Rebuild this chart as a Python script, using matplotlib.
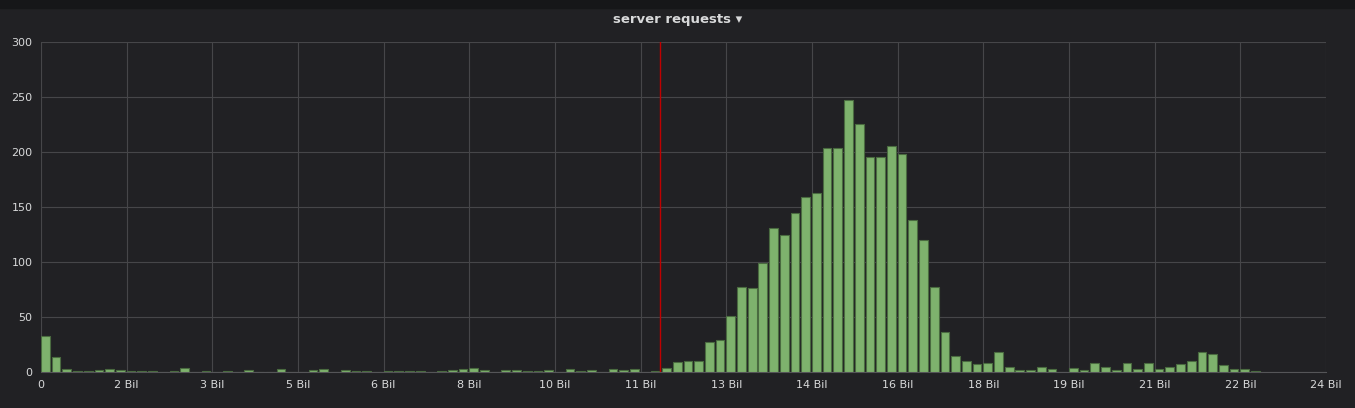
import matplotlib
matplotlib.use("Agg")
import matplotlib.pyplot as plt
import numpy as np

bucket_width = 0.2  # Bil
counts = [33,14,3,1,1,2,3,2,1,1,1,0,1,4,0,1,0,1,0,2,0,0,3,0,0,2,3,0,2,1,
          1,0,1,1,1,1,0,1,2,3,4,2,0,2,2,1,1,2,0,3,1,2,0,3,2,3,0,1,4,9,
          10,10,27,29,51,77,76,99,131,125,145,159,163,204,204,247,225,195,195,205,
          198,138,120,77,36,15,10,7,8,18,5,2,2,5,3,0,4,2,8,5,
          2,8,3,8,3,5,7,10,18,16,6,3,3,1]
tick_vals = [0,1.6,3.2,4.8,6.4,8.0,9.6,11.2,12.8,14.4,16.0,17.6,19.2,20.8,22.4,24.0]
tick_labels = ["0","2 Bil","3 Bil","5 Bil","6 Bil","8 Bil","10 Bil","11 Bil","13 Bil",
               "14 Bil","16 Bil","18 Bil","19 Bil","21 Bil","22 Bil","24 Bil"]
marker_x = 11.56
title = "server requests"

bg = "#212124"
fig = plt.figure(figsize=(13.55, 4.08), dpi=100, facecolor=bg)
fig.patches.append(plt.Rectangle((0, 1-8/408), 1, 8/408, transform=fig.transFigure,
                                 color="#161719", zorder=0))
ax = fig.add_axes([41/1355, 1-372/408, (1326-41)/1355, (372-42)/408], facecolor=bg)
x = np.arange(len(counts)) * bucket_width
ax.bar(x, counts, width=bucket_width*0.82, align="edge", color="#7EB26D",
       edgecolor="#4a6b40", linewidth=0.8, zorder=3)
ax.axvline(marker_x, color="#c00000", linewidth=1, zorder=4)
ax.set_xlim(0, 24)
ax.set_ylim(0, 300)
ax.set_yticks(range(0, 301, 50))
ax.set_xticks(tick_vals)
ax.set_xticklabels(tick_labels)
ax.grid(True, color="#464649", linewidth=0.8, zorder=0)
for s in ax.spines.values():
    s.set_visible(False)
ax.spines["bottom"].set_visible(True)
ax.spines["bottom"].set_color("#555558")
ax.tick_params(colors="#d8d9da", labelsize=8, length=0, pad=6)
for lab in ax.get_yticklabels():
    lab.set_horizontalalignment("right")
fig.text(0.5, 1-20/408, title + " \u25be", ha="center", va="center", color="#d8d9da",
         fontsize=9.5, fontweight="bold")
fig.savefig("out.png", dpi=100, facecolor=bg)
